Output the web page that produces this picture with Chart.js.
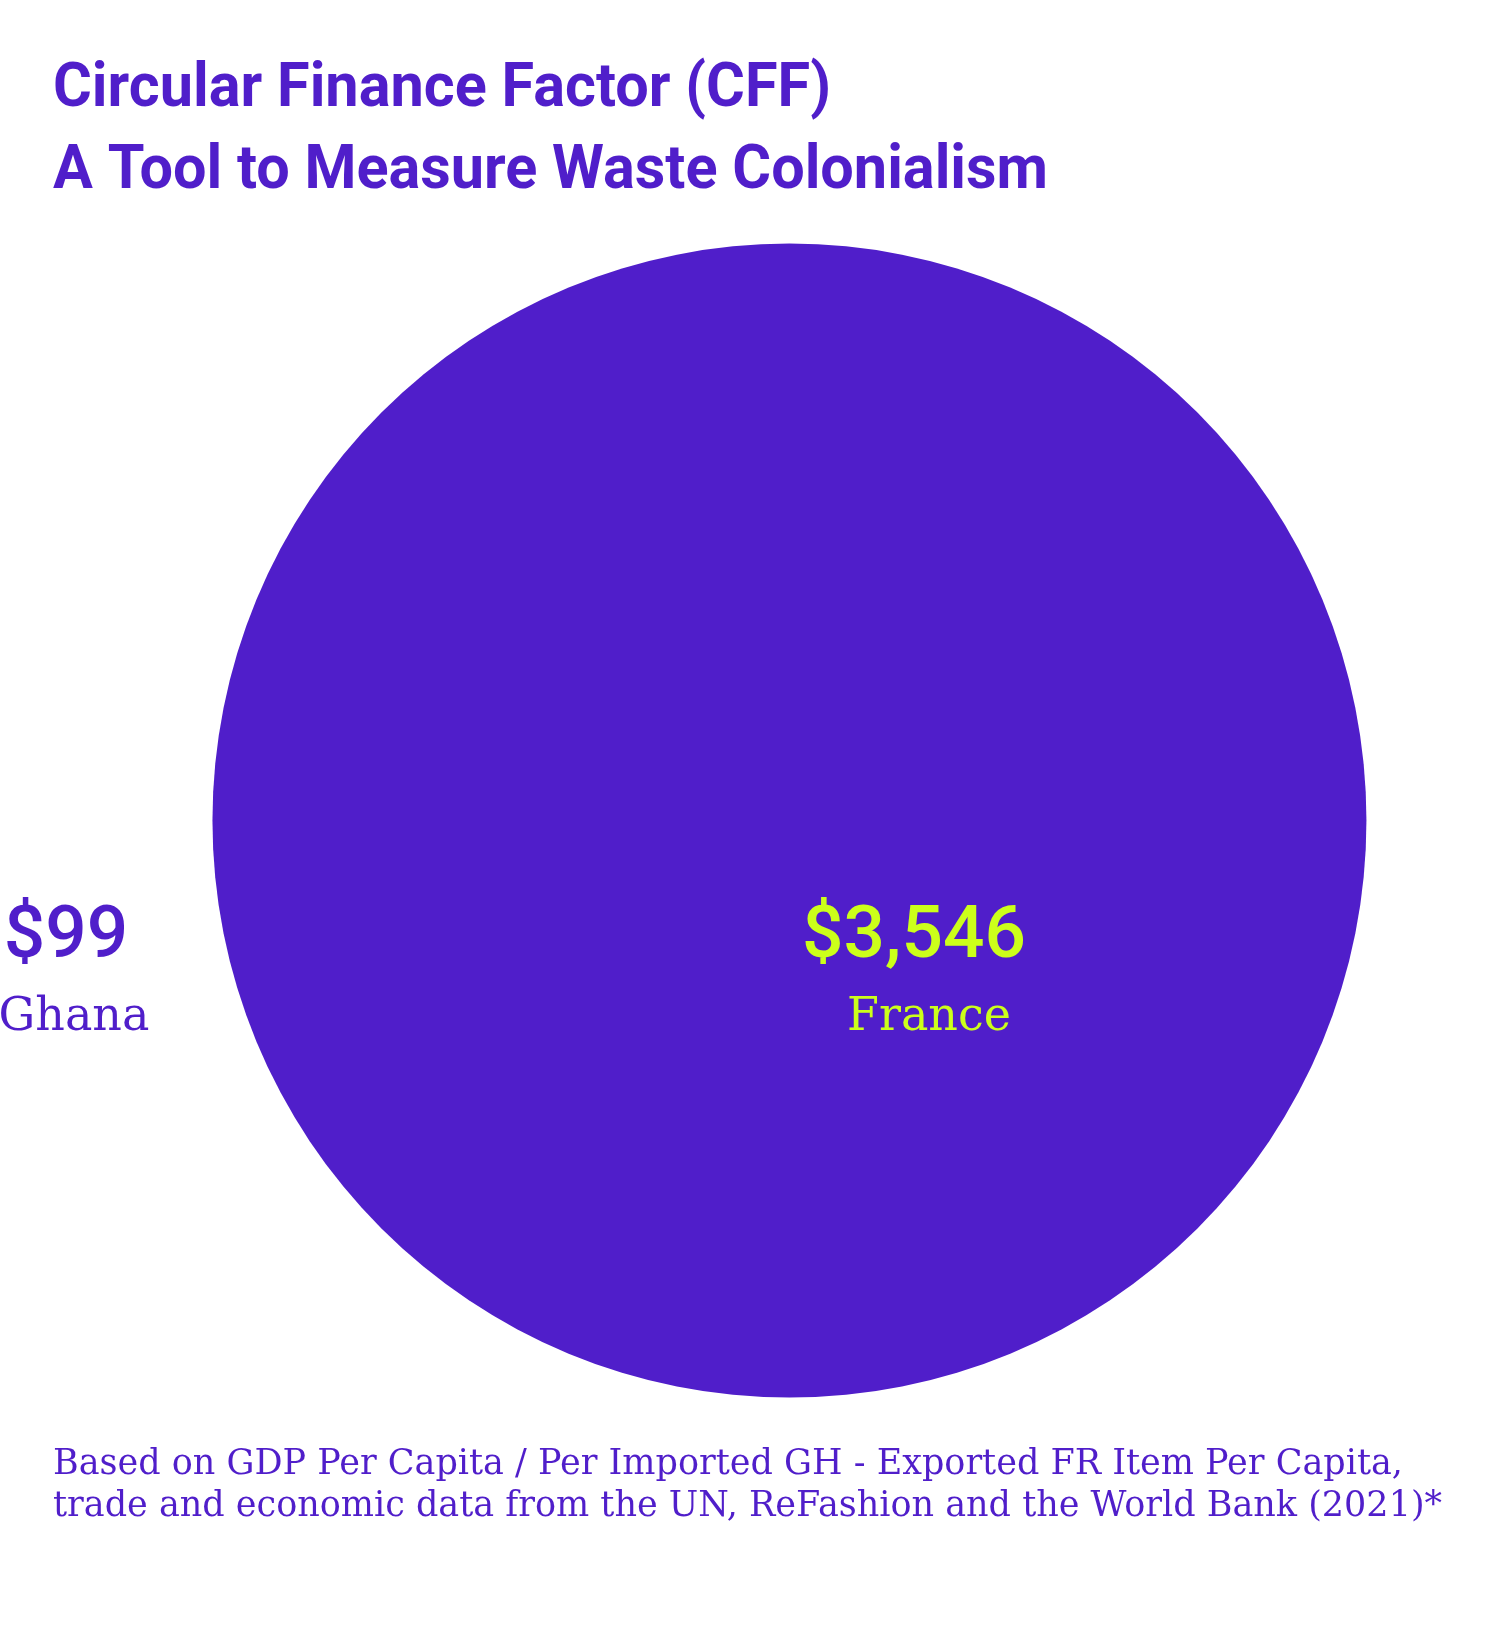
<!DOCTYPE html>
<html><head><meta charset="utf-8">
<script src="https://cdn.jsdelivr.net/npm/chart.js@4"></script>
<style>html,body{margin:0;background:#fff}#wrap{width:1500px;height:1652px}</style>
</head><body><div id="wrap"><canvas id="c"></canvas></div>
<script>
const countries = ['Ghana', 'France'];
const values = [99, 3546];
const valueLabels = ['$99', '$3,546'];
const xPos = [66, 921];
const yPos = [852, 808];
const colors = ['#F3C8F5', '#501ECA'];
const textColors = ['#501ECA', '#CCFF1A'];
const titleLines = ['Circular Finance Factor (CFF)', 'A Tool to Measure Waste Colonialism'];
const noteLines = ['Based on GDP Per Capita / Per Imported GH - Exported FR Item Per Capita,',
                   'trade and economic data from the UN, ReFashion and the World Bank (2021)*'];

const purple = '#501ECA';

const textPlugin = {
    id: 'texts',
    afterDraw(chart) {
        const ctx = chart.ctx;
        ctx.save();
        ctx.fillStyle = purple;
        ctx.textBaseline = 'alphabetic';
        ctx.textAlign = 'left';
        ctx.font = 'bold 62px Roboto';
        ctx.fillText(titleLines[0], 53, 106, 778);
        ctx.fillText(titleLines[1], 53, 188, 995);
        ctx.font = '35px "DejaVu Serif"';
        ctx.fillText(noteLines[0], 53, 1474, 1357);
        ctx.fillText(noteLines[1], 53, 1516, 1400);
        ctx.textAlign = 'center';
        countries.forEach((name, i) => {
            ctx.fillStyle = textColors[i];
            ctx.font = '500 73px Roboto';
            ctx.fillText(valueLabels[i], i === 0 ? 66 : 914, 957);
            ctx.font = '46px "DejaVu Serif"';
            ctx.fillText(name, i === 0 ? 74 : 929, 1030);
        });
        ctx.restore();
    }
};

const maxR = 577;
new Chart(document.getElementById('c'), {
    type: 'bubble',
    data: {
        datasets: [{
            data: values.map((v, i) => ({ x: xPos[i], y: yPos[i], r: maxR * v / values[1] })),
            backgroundColor: colors,
            borderWidth: 0,
            hoverRadius: 0,
            clip: false
        }]
    },
    options: {
        responsive: true,
        maintainAspectRatio: false,
        animation: false,
        layout: { padding: 0 },
        scales: {
            x: { type: 'linear', min: 0, max: 1500, display: false },
            y: { type: 'linear', min: 0, max: 1652, reverse: true, display: false }
        },
        plugins: { legend: { display: false }, tooltip: { enabled: false } }
    },
    plugins: [textPlugin]
});
</script></body></html>
